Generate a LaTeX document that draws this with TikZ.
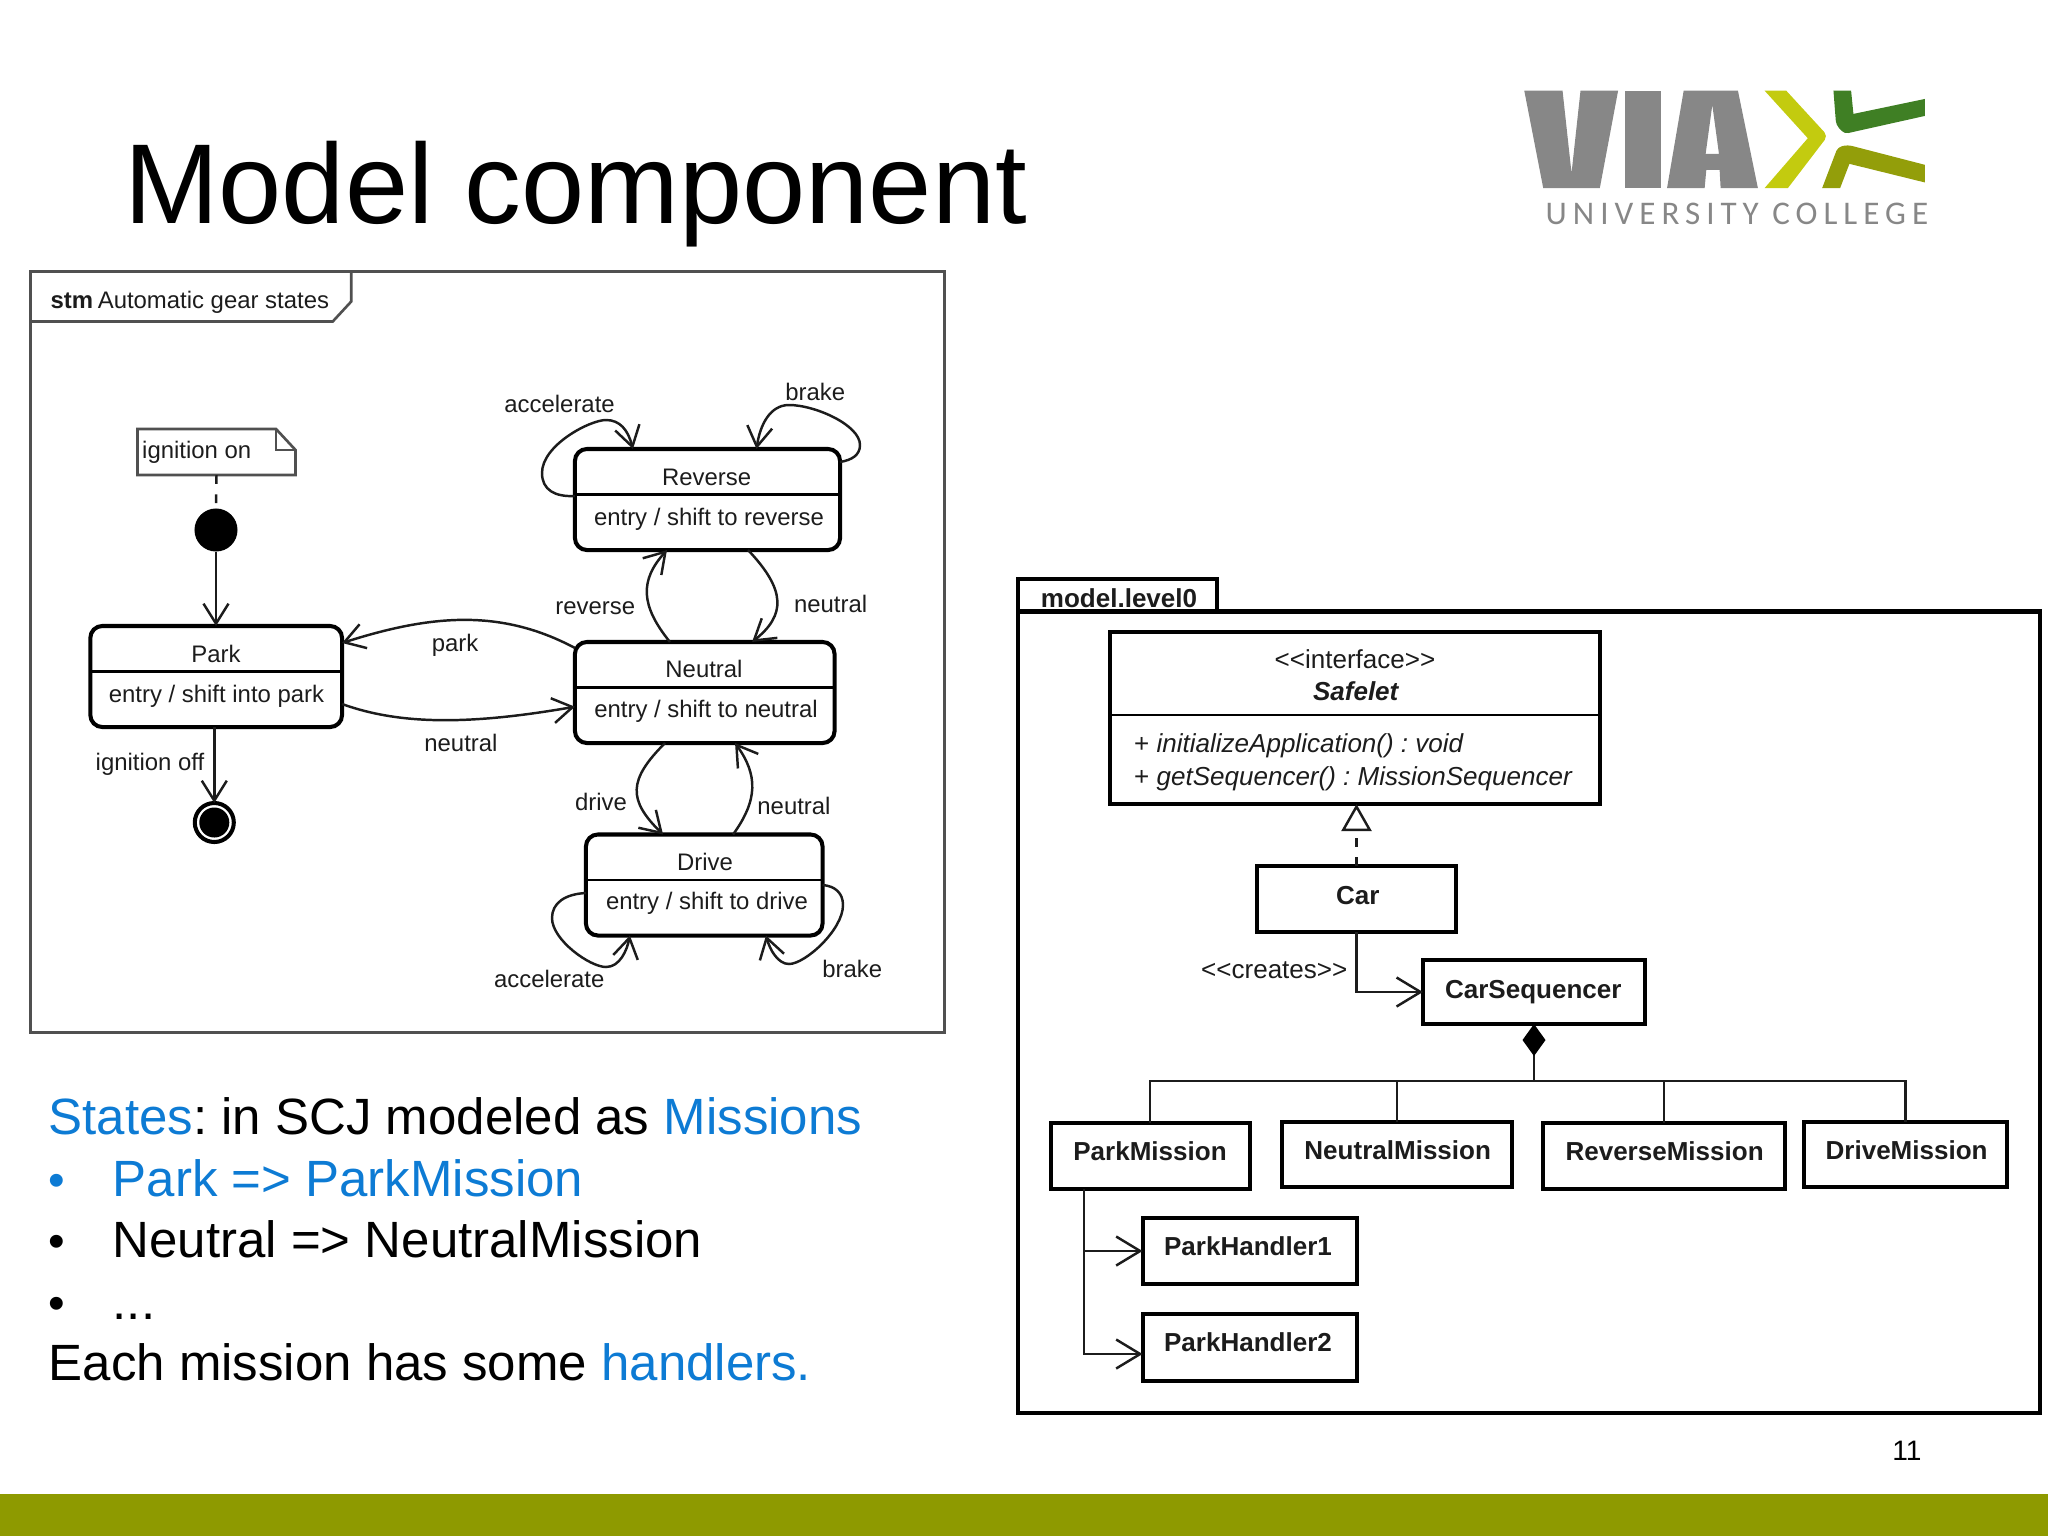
\documentclass[tikz,border=0pt]{standalone}
\usepackage{fontspec}
\setmainfont{Liberation Sans}
\newfontfamily\logofont[LetterSpace=18.2]{Carlito}
\usetikzlibrary{arrows.meta,shapes.geometric}
\definecolor{viablue}{HTML}{0D7BD4}
\definecolor{viabar}{HTML}{8E9A00}
\definecolor{logogrey}{HTML}{878787}
\definecolor{logolime}{HTML}{C3CB0F}
\definecolor{logogreen}{HTML}{3F7F24}
\definecolor{logoolive}{HTML}{939E0A}
\definecolor{inkdark}{HTML}{1C1C1C}
\definecolor{framegrey}{HTML}{505050}
\begin{document}
\frenchspacing
\begin{tikzpicture}[
    x=0.01cm, y=-0.01cm,
    slidetitle/.style={inner sep=0pt, anchor=base west, font=\fontsize{32.3pt}{38pt}\selectfont},
    slidetext/.style={inner sep=0pt, anchor=base west, font=\fontsize{14.5pt}{17pt}\selectfont},
    bulletdot/.style={slidetext, font=\fontsize{13.5pt}{16pt}\selectfont},
    diagtext/.style={inner sep=0pt, anchor=base, text=inkdark, font=\fontsize{6.8pt}{8pt}\selectfont},
    classtext/.style={inner sep=0pt, anchor=base, text=inkdark, font=\fontsize{7.4pt}{9pt}\selectfont},
    classname/.style={classtext, font=\fontsize{7.4pt}{9pt}\selectfont\bfseries},
    statebox/.style={draw=black, line width=1.15pt, rounded corners=1.2mm, minimum height=1.01cm, inner sep=0pt, outer sep=0pt},
    classbox/.style={draw=black, line width=1.15pt, inner sep=0pt, outer sep=0pt},
    framebox/.style={draw=framegrey, line width=0.75pt, inner sep=0pt, outer sep=0pt},
    divider/.style={draw=black, line width=0.7pt},
    thinline/.style={draw=inkdark, line width=0.7pt},
    openarrow/.style={thinline, -{Straight Barb[length=2mm,width=2.5mm]}},
    classarrow/.style={thinline, -{Straight Barb[length=2.4mm,width=2.9mm]}},
    dashline/.style={thinline, dash pattern=on 2.5pt off 3pt},
]
    \useasboundingbox (0,0) rectangle (2048,1536);
    \fill[viabar] (0,1494) rectangle (2048,1536);

    \node[slidetitle] (title) at (123.5,223.5) {Model component};
    \node[inner sep=0pt, anchor=base, font=\fontsize{8pt}{10pt}\selectfont] (pagenum) at (1907,1460) {11};

    \begin{scope}[shift={(1480,60)}, x=0.00333cm, y=-0.00333cm]
        \fill[logogrey] (133,92) -- (248,92) -- (275,340) -- (302,92) -- (415,92) -- (360,385) -- (190,385) -- cycle;
        \fill[logogrey] (435,92) rectangle (545,385);
        \fill[logogrey, even odd rule] (612,92) -- (775,92) -- (835,385) -- (723,385) -- (720,330) -- (680,330) -- (675,385) -- (562,385) -- cycle (698,135) -- (718,282) -- (678,282) -- cycle;
        \fill[logolime] (855,92) -- (920,92) [rounded corners=0.5mm] -- (1045,228) [sharp corners] -- (925,385) -- (855,385) -- (985,235) -- cycle;
        \fill[logogreen] (1062,92) -- (1115,92) -- (1122,162) -- (1337,117) -- (1337,168) [rounded corners=0.4mm] -- (1095,222) -- (1070,195) [sharp corners] -- cycle;
        \fill[logoolive] (1028,385) [rounded corners=0.4mm] -- (1075,262) -- (1105,255) [sharp corners] -- (1337,315) -- (1337,368) -- (1110,312) -- (1082,385) -- cycle;
    \end{scope}
    \node[inner sep=0pt, anchor=base west, text=logogrey, font=\logofont\fontsize{9.4pt}{11pt}\selectfont] (logotext) at (1545,224) {UNIVERSITY COLLEGE};

    \node[framebox, minimum width=9.135cm, minimum height=7.6cm] (stmframe) at (487.25,652) {};
    \draw[framebox] ([yshift=-0.497cm]stmframe.north west) -- +(302.5,0) -- +(321,-20) -- ++(321,-49.7);
    \node[diagtext, anchor=base west] (stmlabel) at (50,308) {\textbf{stm}\hspace{1.3pt}Automatic gear states};

    \node[inner sep=0pt, outer sep=0pt, minimum width=1.58cm, minimum height=0.46cm] (notebox) at (216.5,452) {};
    \draw[framebox] (notebox.south west) -- (notebox.north west) -- ([xshift=-0.195cm]notebox.north east) -- ([yshift=-0.21cm]notebox.north east) -- (notebox.south east) -- cycle;
    \draw[framebox] ([xshift=-0.195cm]notebox.north east) -- ([xshift=-0.195cm,yshift=-0.21cm]notebox.north east) -- ([yshift=-0.21cm]notebox.north east);
    \node[diagtext, anchor=base west] (notetext) at (141.5,458) {ignition on};

    \node[circle, fill=black, inner sep=0pt, outer sep=0pt, minimum size=0.43cm] (initstate) at (216,530) {};
    \node[circle, draw=black, line width=1.15pt, inner sep=0pt, outer sep=0pt, minimum size=0.39cm] (finalstate) at (214.3,822.5) {};
    \node[circle, fill=black, inner sep=0pt, outer sep=0pt, minimum size=0.3cm] (finaldot) at (214.3,822.5) {};

    \node[statebox, minimum width=2.516cm] (parkbox) at (216.2,676.5) {};
    \node[statebox, minimum width=2.65cm] (reversebox) at (707.5,499.5) {};
    \node[statebox, minimum width=2.595cm] (neutralbox) at (704.75,692.5) {};
    \node[statebox, minimum width=2.365cm] (drivebox) at (704.25,885) {};
    \foreach \s in {parkbox,reversebox,neutralbox,drivebox}
        \draw[divider] ([yshift=0.05cm]\s.west) -- ([yshift=0.05cm]\s.east);

    \node[diagtext] (parkname) at (216,662) {Park};
    \node[diagtext] (parkentry) at (216.5,702.3) {entry / shift into park};
    \node[diagtext] (reversename) at (706.6,485) {Reverse};
    \node[diagtext] (reverseentry) at (709,525.3) {entry / shift to reverse};
    \node[diagtext] (neutralname) at (704,677.2) {Neutral};
    \node[diagtext] (neutralentry) at (706,717.3) {entry / shift to neutral};
    \node[diagtext] (drivename) at (705,870) {Drive};
    \node[diagtext] (driveentry) at (707,909.3) {entry / shift to drive};

    \draw[dashline] (notebox.south) -- (initstate.north);
    \draw[openarrow] (initstate.south) -- (initstate.south |- parkbox.north);
    \draw[openarrow] (finalstate.north |- parkbox.south) -- (finalstate.north);
    \draw[openarrow] ([yshift=0.445cm]neutralbox.west) .. controls (500,608) and (430,615) .. ([yshift=0.335cm]parkbox.east);
    \draw[openarrow] ([yshift=-0.275cm]parkbox.east) .. controls (400,725) and (470,725) .. ([yshift=-0.142cm]neutralbox.west);
    \draw[openarrow] ([xshift=-0.348cm]neutralbox.north) .. controls (640,605) and (640,580) .. ([xshift=-0.405cm]reversebox.south);
    \draw[openarrow] ([xshift=0.405cm]reversebox.south) .. controls (786,590) and (786,615) .. ([xshift=0.473cm]neutralbox.north);
    \draw[openarrow] ([xshift=-0.397cm]neutralbox.south) .. controls (628,780) and (628,800) .. ([xshift=-0.412cm]drivebox.north);
    \draw[openarrow] ([xshift=0.288cm]drivebox.north) .. controls (758,800) and (758,775) .. ([xshift=0.303cm]neutralbox.south);
    \draw[openarrow] ([yshift=0.035cm]reversebox.west) .. controls (555,497) and (542,490) .. (542,473) .. controls (542,445) and (590,420) .. (606,420) .. controls (620,420) and (628,430) .. ([xshift=-0.745cm]reversebox.north);
    \draw[openarrow] ([yshift=0.375cm]reversebox.east) .. controls (852,460) and (860,455) .. (860,445) .. controls (860,425) and (815,405) .. (789,405) .. controls (770,405) and (760,425) .. ([xshift=0.49cm]reversebox.north);
    \draw[openarrow] ([yshift=-0.08cm]drivebox.west) .. controls (565,894) and (552,903) .. (552,918) .. controls (552,940) and (590,967) .. (606,967) .. controls (620,967) and (627,950) .. ([xshift=-0.743cm]drivebox.south);
    \draw[openarrow] (drivebox.east) .. controls (835,886) and (843,893) .. (843,905) .. controls (843,930) and (805,964) .. (789,964) .. controls (778,964) and (770,950) .. ([xshift=0.617cm]drivebox.south);

    \node[diagtext, anchor=base west] (accrevlabel) at (503.7,412.7) {accelerate};
    \node[diagtext, anchor=base west] (brakerevlabel) at (784.7,400) {brake};
    \node[diagtext, anchor=base west] (reverselabel) at (554.7,614) {reverse};
    \node[diagtext, anchor=base west] (neutraluplabel) at (793.3,612.5) {neutral};
    \node[diagtext, anchor=base west] (parklabel) at (431.2,651.5) {park};
    \node[diagtext, anchor=base west] (neutralleftlabel) at (423.7,751) {neutral};
    \node[diagtext, anchor=base west] (ignofflabel) at (95,770) {ignition off};
    \node[diagtext, anchor=base west] (drivelabel) at (574.3,810.5) {drive};
    \node[diagtext, anchor=base west] (neutrallowlabel) at (756.7,814.5) {neutral};
    \node[diagtext, anchor=base west] (accdrivelabel) at (493.4,987) {accelerate};
    \node[diagtext, anchor=base west] (brakedrivelabel) at (821.7,977.5) {brake};

    \node[slidetext] (line1) at (48,1134.5) {\textcolor{viablue}{States}: in SCJ modeled as \textcolor{viablue}{Missions}};
    \node[bulletdot, text=viablue] (bullet2) at (47.7,1196) {•};
    \node[slidetext, text=viablue] (line2) at (112,1196) {Park => ParkMission};
    \node[bulletdot] (bullet3) at (47.7,1257) {•};
    \node[slidetext] (line3) at (112,1257.7) {Neutral => NeutralMission};
    \node[bulletdot] (bullet4) at (47.7,1319) {•};
    \node[slidetext] (line4) at (112,1319) {...};
    \node[slidetext] (line5) at (48,1380.5) {Each mission has some \textcolor{viablue}{handlers.}};

    \node[classbox, minimum width=10.22cm, minimum height=8.013cm] (package) at (1529,1012.35) {};
    \node[classbox, minimum width=1.99cm, minimum height=0.327cm] (packagetab) at (1117.5,595.35) {};
    \node[classname] (packagename) at (1119,607) {model.level0};

    \node[classbox, minimum width=4.9cm, minimum height=1.72cm] (safelet) at (1355,718) {};
    \draw[divider] ([yshift=0.03cm]safelet.west) -- ([yshift=0.03cm]safelet.east);
    \node[classtext] (stereotype) at (1355,668) {<{}<interface>{}>};
    \node[classname, font=\fontsize{7.4pt}{9pt}\selectfont\bfseries\itshape] (safeletname) at (1355.7,700.7) {Safelet};
    \node[classtext, anchor=base west] (method1) at (1133.5,752.7) {+ \textit{initializeApplication() : void}};
    \node[classtext, anchor=base west] (method2) at (1133.5,785) {+ \textit{getSequencer() : MissionSequencer}};

    \node[classbox, minimum width=1.98cm, minimum height=0.66cm] (car) at (1356.5,899) {};
    \node[classname] (carname) at (1357.7,904) {Car};
    \node[classbox, minimum width=2.22cm, minimum height=0.64cm] (carseq) at (1534,992) {};
    \node[classname] (carseqname) at (1533.3,998) {CarSequencer};
    \node[classtext, anchor=base west] (createslabel) at (1200.5,978) {<{}<creates>{}>};

    \node[classbox, minimum width=1.985cm, minimum height=0.66cm] (parkmission) at (1150.25,1156) {};
    \node[classbox, minimum width=2.3cm, minimum height=0.65cm] (neutralmission) at (1397,1154.5) {};
    \node[classbox, minimum width=2.42cm, minimum height=0.66cm] (reversemission) at (1664,1156) {};
    \node[classbox, minimum width=2.034cm, minimum height=0.65cm] (drivemission) at (1905.3,1154.5) {};
    \node[classbox, minimum width=2.144cm, minimum height=0.66cm] (parkhandler1) at (1249.8,1251) {};
    \node[classbox, minimum width=2.144cm, minimum height=0.67cm] (parkhandler2) at (1249.8,1347.5) {};
    \node[classname] at (1150,1160) (parkmissionname) {ParkMission};
    \node[classname] at (1397.7,1159) (neutralmissionname) {NeutralMission};
    \node[classname] at (1664.6,1160) (reversemissionname) {ReverseMission};
    \node[classname] at (1906.6,1159) (drivemissionname) {DriveMission};
    \node[classname] at (1248,1255) (parkhandler1name) {ParkHandler1};
    \node[classname] at (1248,1351.7) (parkhandler2name) {ParkHandler2};

    \coordinate (busjoint) at (1534,1081);
    \draw[dashline, -{Triangle[open,length=2.7mm,width=3mm,fill=white]}] (car.north) -- (car.north |- safelet.south);
    \draw[classarrow] (car.south) |- (carseq.west);
    \draw[thinline, {Diamond[length=3.2mm,width=2.3mm,fill=black,color=black]}-] (carseq.south) -- (busjoint);
    \foreach \m in {parkmission,neutralmission,reversemission,drivemission}
        \draw[thinline] (busjoint) -| (\m.north);
    \draw[classarrow] ([xshift=-0.6625cm]parkmission.south) |- (parkhandler1.west);
    \draw[classarrow] ([xshift=-0.6625cm]parkmission.south) |- ([yshift=-0.065cm]parkhandler2.west);
\end{tikzpicture}
\end{document}
